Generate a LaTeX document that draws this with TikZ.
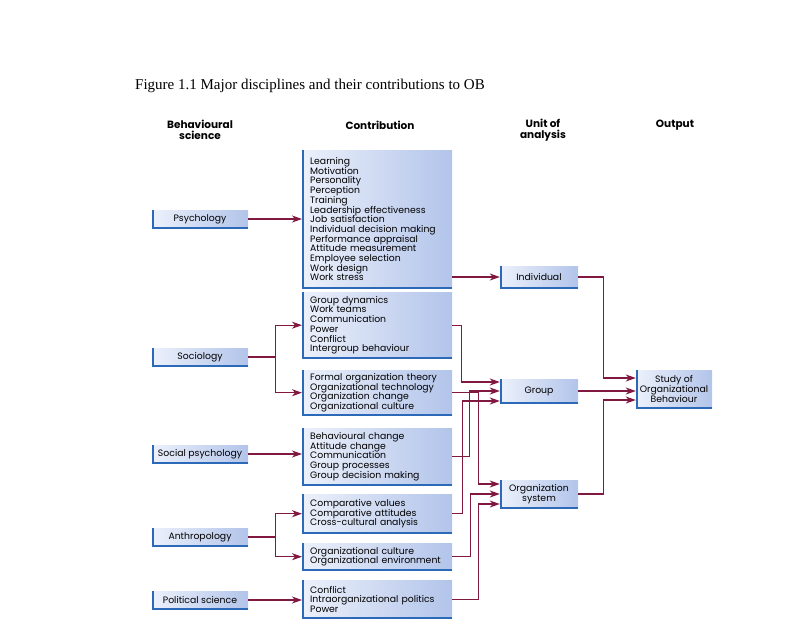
\documentclass[tikz,border=0pt]{standalone}
\usepackage{fontspec}
\setmainfont{Liberation Serif}
\newfontfamily\geofont{Poppins}
\usetikzlibrary{positioning, arrows.meta}
\definecolor{wire}{RGB}{128,24,64}
\definecolor{boxlight}{RGB}{236,241,251}
\definecolor{boxdark}{RGB}{178,196,234}
\definecolor{boxedge}{RGB}{45,105,185}
\tikzstyle{panel} = [rectangle, left color=boxlight, right color=boxdark, inner sep=0pt, path picture={\draw[boxedge, line width=3pt] (path picture bounding box.north west) -- (path picture bounding box.south west) -- (path picture bounding box.south east);}]
\tikzstyle{discipline} = [panel, minimum width=96pt, minimum height=18pt, font=\geofont\fontsize{9.3}{10}\selectfont]
\tikzstyle{contrib} = [panel, anchor=north west, text width=134pt, inner xsep=8pt, align=left, font=\geofont\fontsize{9.3}{9.7}\selectfont]
\tikzstyle{unit} = [panel, minimum width=78pt, align=center, font=\geofont\fontsize{9.3}{9.8}\selectfont]
\tikzstyle{heading} = [align=center, font=\geofont\bfseries\fontsize{10.5}{11}\selectfont]
\tikzstyle{arrow} = [wire, line width=1.2pt, -{Stealth[length=10pt, width=7pt, inset=3pt]}]
\tikzstyle{link} = [wire, line width=1.2pt]

\begin{document}
\begin{tikzpicture}[x=1pt, y=-1pt]
  \useasboundingbox (0,0) rectangle (787,635);

  % Title and column headings
  \node (title) [anchor=west, inner sep=0pt, font=\fontsize{15}{17}\selectfont] at (135,86) {Figure 1.1 Major disciplines and their contributions to OB};
  \node (h_science) [heading] at (200,130) {Behavioural\\science};
  \node (h_contrib) [heading] at (380,125) {Contribution};
  \node (h_unit) [heading] at (543,130) {Unit of\\analysis};
  \node (h_output) [heading] at (675,125) {Output};

  % Behavioural sciences (left column)
  \node (psychology) [discipline] at (200,219) {Psychology};
  \node (sociology) [discipline] at (200,357) {Sociology};
  \node (social_psych) [discipline] at (200,454) {Social psychology};
  \node (anthropology) [discipline] at (200,537) {Anthropology};
  \node (political) [discipline] at (200,600) {Political science};

  % Contributions (middle column)
  \node (psych_c) [contrib, minimum height=138pt] at (302,150) {Learning\\Motivation\\Personality\\Perception\\Training\\Leadership effectiveness\\Job satisfaction\\Individual decision making\\Performance appraisal\\Attitude measurement\\Employee selection\\Work design\\Work stress};
  \node (socio_c1) [contrib, minimum height=66pt] at (302,292) {Group dynamics\\Work teams\\Communication\\Power\\Conflict\\Intergroup behaviour};
  \node (socio_c2) [contrib, minimum height=45pt] at (302,370) {Formal organization theory\\Organizational technology\\Organization change\\Organizational culture};
  \node (socpsy_c) [contrib, minimum height=57pt] at (302,428) {Behavioural change\\Attitude change\\Communication\\Group processes\\Group decision making};
  \node (anthro_c1) [contrib, minimum height=39pt] at (302,494) {Comparative values\\Comparative attitudes\\Cross-cultural analysis};
  \node (anthro_c2) [contrib, minimum height=27pt] at (302,543) {Organizational culture\\Organizational environment};
  \node (polit_c) [contrib, minimum height=38pt] at (302,580) {Conflict\\Intraorganizational politics\\Power};

  % Units of analysis and output
  \node (individual) [unit, minimum height=22pt] at (539,277) {Individual};
  \node (group) [unit, minimum height=24pt] at (539,391) {Group};
  \node (org_system) [unit, minimum height=28pt] at (539,494) {Organization\\system};
  \node (study_ob) [unit, minimum width=76pt, minimum height=38pt] at (674,389) {Study of\\Organizational\\Behaviour};

  % Sciences to contributions
  \draw[arrow] (psychology.east) -- (psychology.east -| psych_c.west);
  \draw[link] (sociology.east) -- ++(27,0) coordinate (socio_fork);
  \draw[arrow] (socio_fork) |- (socio_c1.west);
  \draw[arrow] (socio_fork) |- (socio_c2.west);
  \draw[arrow] (social_psych.east) -- (social_psych.east -| socpsy_c.west);
  \draw[link] (anthropology.east) -- ++(27,0) coordinate (anthro_fork);
  \draw[arrow] (anthro_fork) |- (anthro_c1.west);
  \draw[arrow] (anthro_fork) |- (anthro_c2.west);
  \draw[arrow] (political.east) -- (political.east -| polit_c.west);

  % Contributions to units of analysis
  \draw[arrow] (psych_c.east |- individual.west) -- (individual.west);
  \draw[arrow] (socio_c1.east) -- ++(9,0) |- ([yshift=9pt]group.west);
  \draw[arrow] (socpsy_c.east) -- ++(17,0) |- (group.west);
  \draw[arrow] (anthro_c1.east) -- ++(10,0) |- ([yshift=-10pt]group.west);
  \draw[arrow] (socio_c2.east) -- ++(26,0) |- ([yshift=10pt]org_system.west);
  \draw[arrow] (anthro_c2.east) -- ++(18,0) |- (org_system.west);
  \draw[arrow] (polit_c.east) -- ++(26,0) |- ([yshift=-10pt]org_system.west);

  % Units to output
  \draw[arrow] (individual.east) -- ++(25,0) |- ([yshift=11pt]study_ob.west);
  \draw[arrow] (group.east) -- (group.east -| study_ob.west);
  \draw[arrow] (org_system.east) -- ++(25,0) |- ([yshift=-11pt]study_ob.west);

\end{tikzpicture}
\end{document}
